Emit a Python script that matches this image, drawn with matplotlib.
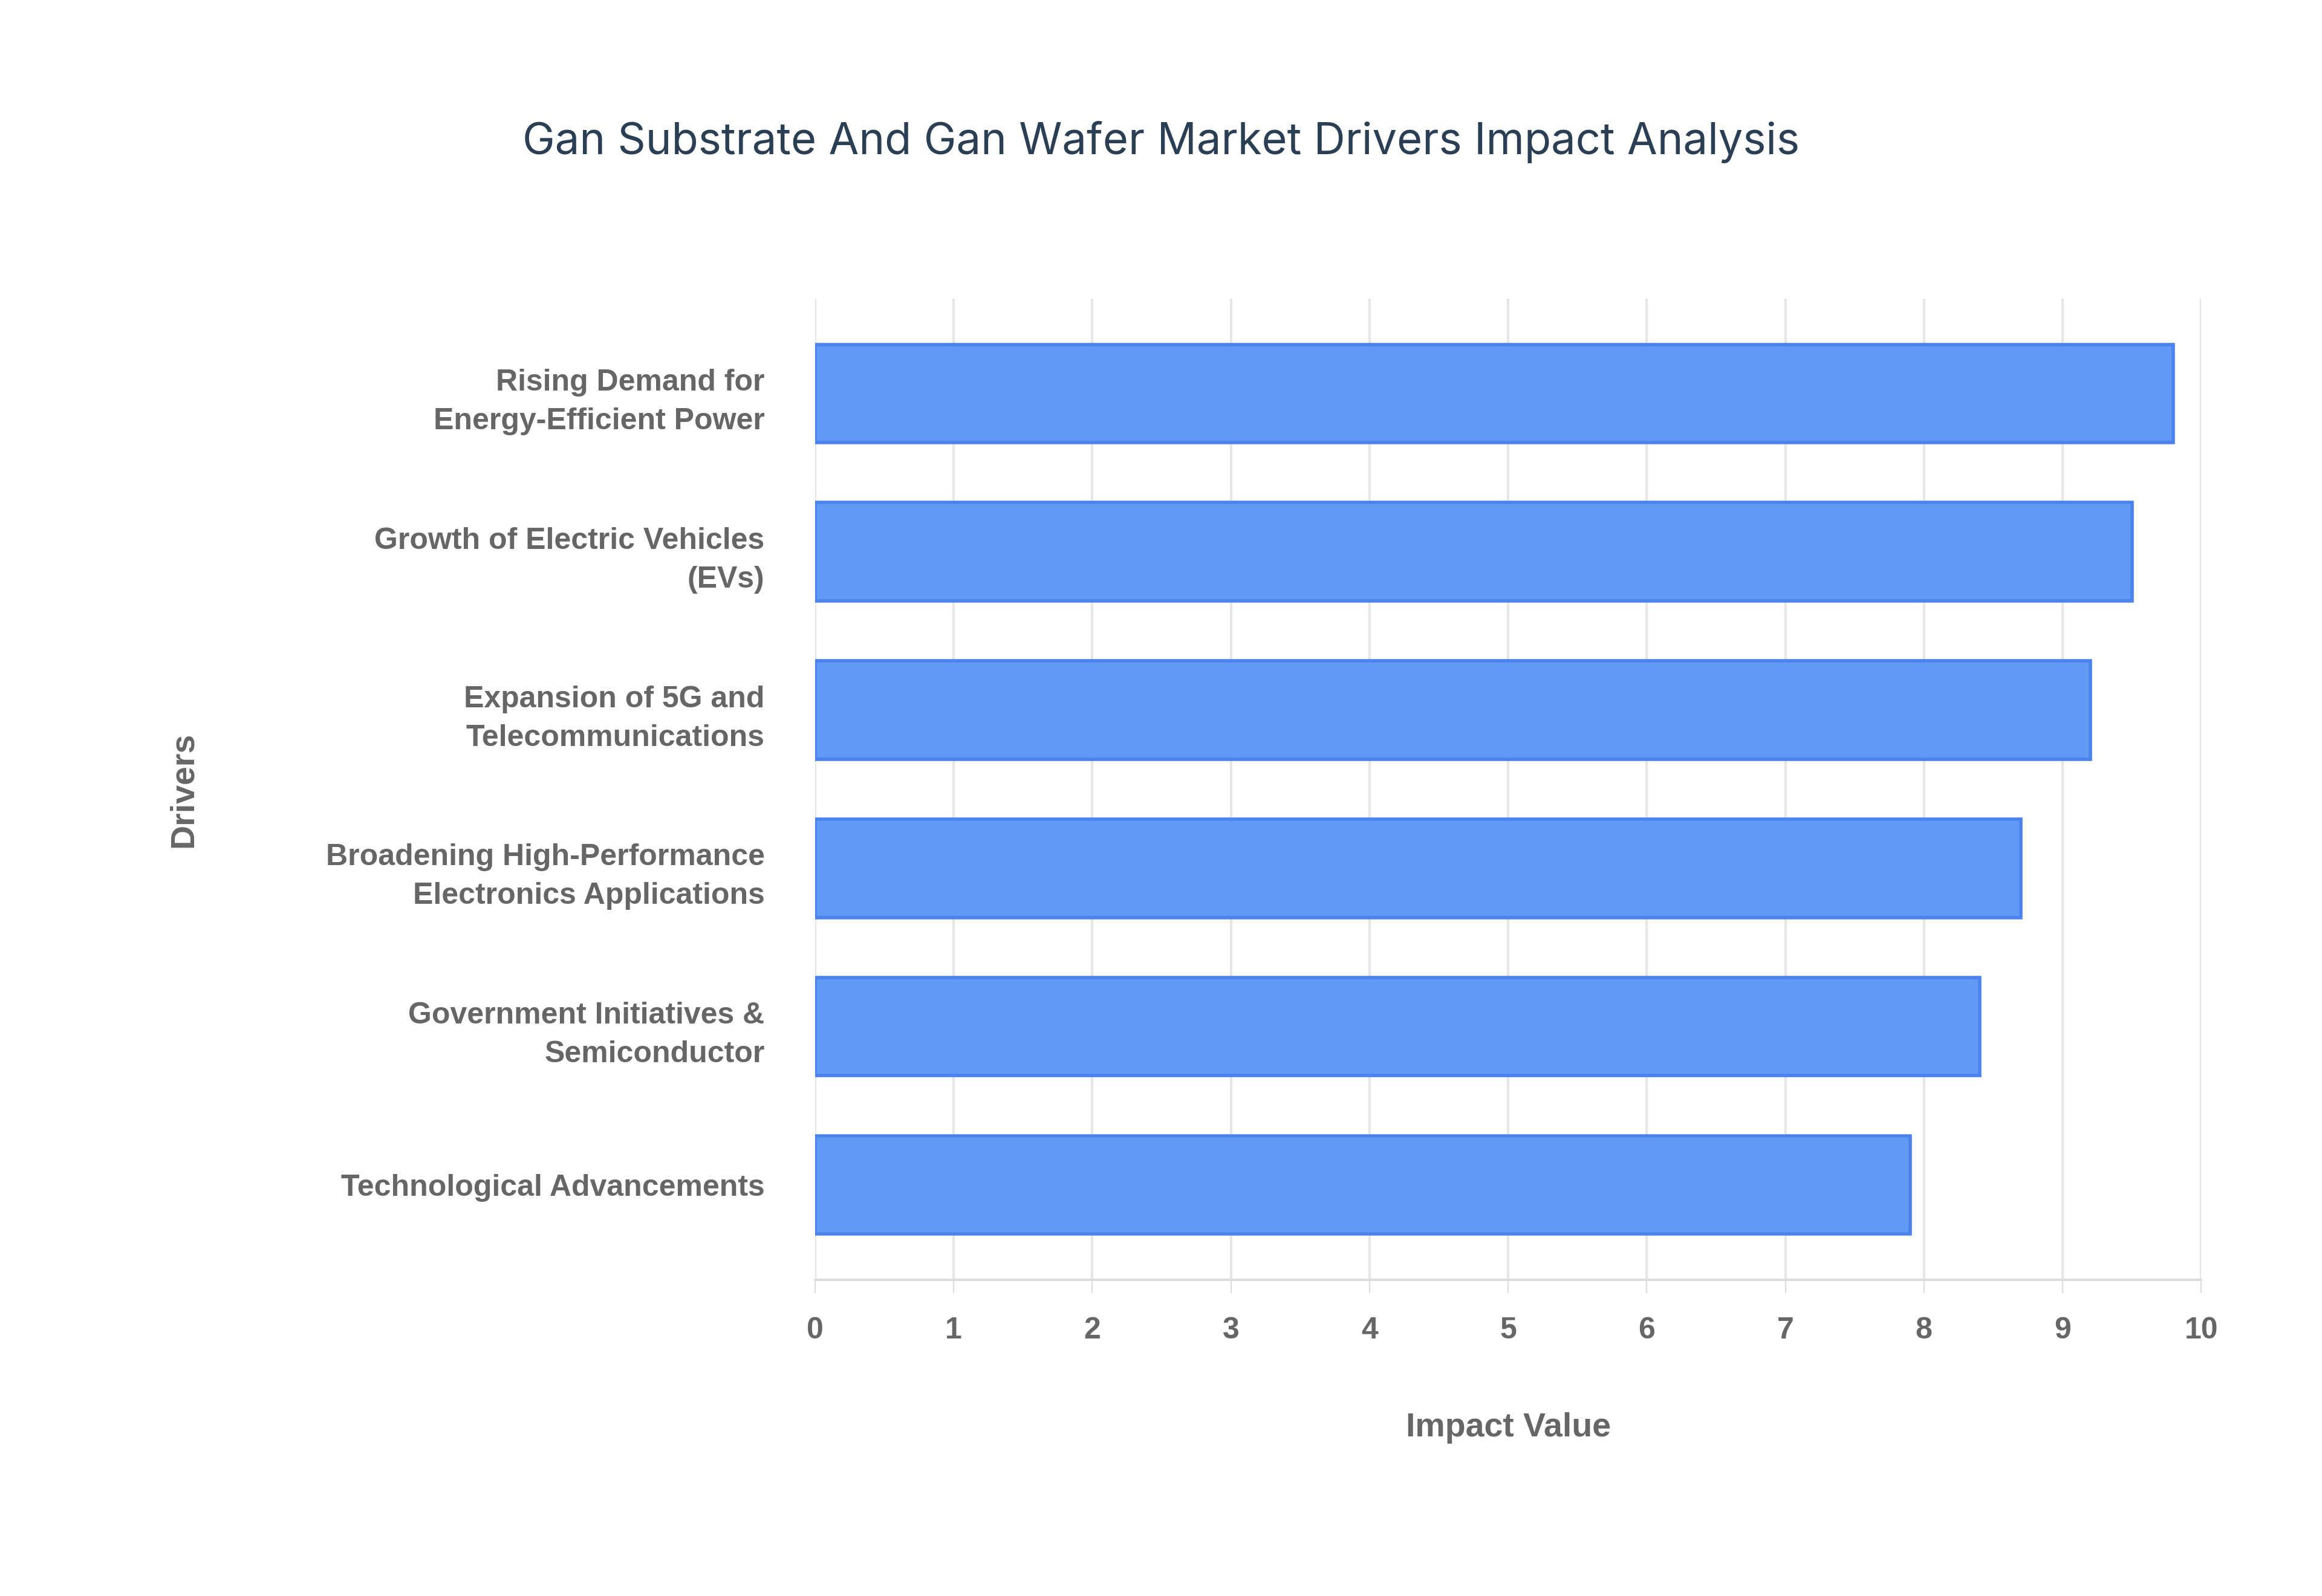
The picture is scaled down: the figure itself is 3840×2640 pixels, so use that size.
import matplotlib.pyplot as plt

# ==== DATA ====
drivers = [
    "Rising Demand for\nEnergy-Efficient Power",
    "Growth of Electric Vehicles\n(EVs)",
    "Expansion of 5G and\nTelecommunications",
    "Broadening High-Performance\nElectronics Applications",
    "Government Initiatives &\nSemiconductor",
    "Technological Advancements",
]
impact = [9.8, 9.5, 9.2, 8.7, 8.4, 7.9]
ticks = list(range(0, 11))

plt.rcParams['font.family'] = ['Liberation Sans', 'DejaVu Sans']

fig = plt.figure(figsize=(19.2, 13.2), dpi=200)
ax = fig.add_axes([0.351, 0.198, 0.597, 0.615])

ypos = list(range(len(drivers)))[::-1]
ax.barh(ypos, impact, height=0.62, color='#6199f5', edgecolor='#4a82ee', linewidth=2.0, zorder=3)

ax.set_xlim(0, 10)
ax.set_ylim(-0.6, len(drivers) - 0.4)
ax.set_xticks(ticks)
ax.set_yticks(ypos)
ax.set_yticklabels(drivers, fontsize=18, fontweight='bold', color='#666666', linespacing=1.5)
ax.set_xticklabels([str(t) for t in ticks], fontsize=18, fontweight='bold', color='#666666')
ax.tick_params(axis='y', length=0, pad=30)
ax.tick_params(axis='x', length=8, color='#dddddd', pad=14)
ax.grid(axis='x', color='#e6e6e6', linewidth=1.5, zorder=0)

for s in ['top', 'right', 'left']:
    ax.spines[s].set_visible(False)
ax.spines['bottom'].set_color('#dddddd')
ax.spines['bottom'].set_linewidth(1.5)
ax.axvline(0, color='#e6e6e6', linewidth=1.5, zorder=1)

ax.set_xlabel('Impact Value', fontsize=20, fontweight='bold', color='#666666', labelpad=40)
fig.text(0.079, 0.505, 'Drivers', rotation=90, fontsize=20, fontweight='bold',
         color='#666666', ha='center', va='center')

fig.text(0.5, 0.911, 'Gan Substrate And Gan Wafer Market Drivers Impact Analysis',
         fontsize=26, color='#2a3f54', ha='center', va='center', family=['Inter', 'DejaVu Sans'])

fig.savefig('out.png', dpi=200, facecolor='white')
